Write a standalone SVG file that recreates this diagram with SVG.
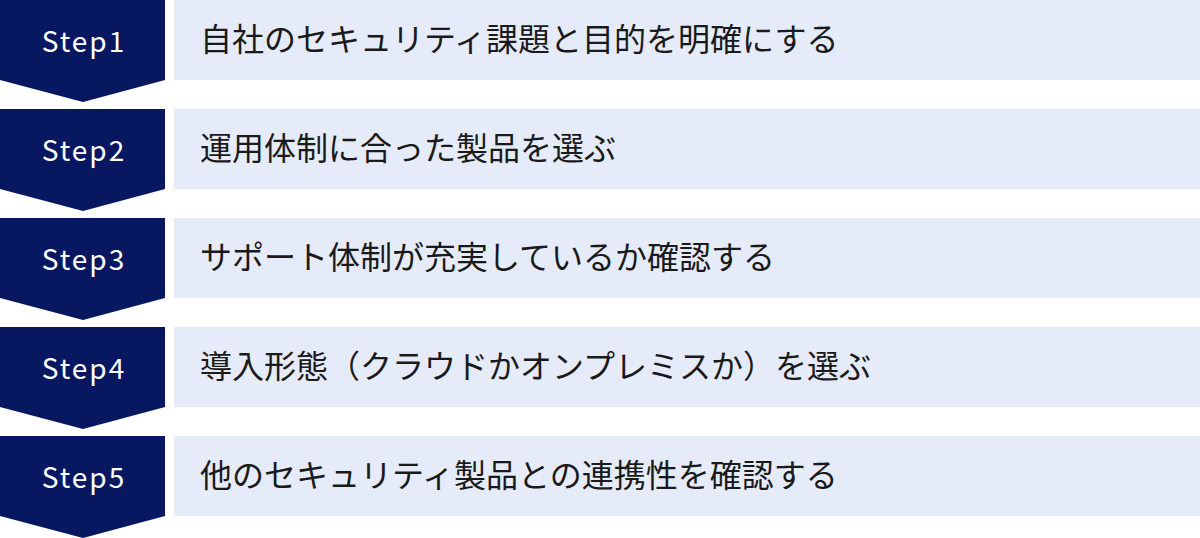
<svg xmlns="http://www.w3.org/2000/svg" width="1200" height="538" viewBox="0 0 1200 538">
<style>
.chev{fill:#071760}
.box{fill:#E5EBF9}
.step{font-family:"Noto Sans CJK JP","Noto Sans",sans-serif;font-size:28px;font-weight:400;fill:#ffffff;text-anchor:middle;letter-spacing:2px}
.lbl{font-family:"Noto Sans CJK JP","Noto Sans",sans-serif;font-size:32px;fill:#1a1a1a}
</style>
<defs>
<path id="chevron" d="M0,0 H165 V80 L83,102 L0,80 Z"/>
</defs>
<rect width="1200" height="538" fill="#ffffff"/>
<g id="connectors"></g>
<g id="step1" transform="translate(0,0)">
<use href="#chevron" class="chev"/>
<rect class="box" x="174" y="0" width="1026" height="80"/>
<text class="step" x="84" y="52">Step1</text>
<text class="lbl" x="200" y="51">自社のセキュリティ課題と目的を明確にする</text>
</g>
<g id="step2" transform="translate(0,109)">
<use href="#chevron" class="chev"/>
<rect class="box" x="174" y="0" width="1026" height="80"/>
<text class="step" x="84" y="52">Step2</text>
<text class="lbl" x="200" y="51">運用体制に合った製品を選ぶ</text>
</g>
<g id="step3" transform="translate(0,218)">
<use href="#chevron" class="chev"/>
<rect class="box" x="174" y="0" width="1026" height="80"/>
<text class="step" x="84" y="52">Step3</text>
<text class="lbl" x="200" y="51">サポート体制が充実しているか確認する</text>
</g>
<g id="step4" transform="translate(0,327)">
<use href="#chevron" class="chev"/>
<rect class="box" x="174" y="0" width="1026" height="80"/>
<text class="step" x="84" y="52">Step4</text>
<text class="lbl" x="200" y="51">導入形態（クラウドかオンプレミスか）を選ぶ</text>
</g>
<g id="step5" transform="translate(0,436)">
<use href="#chevron" class="chev"/>
<rect class="box" x="174" y="0" width="1026" height="80"/>
<text class="step" x="84" y="52">Step5</text>
<text class="lbl" x="200" y="51">他のセキュリティ製品との連携性を確認する</text>
</g>
</svg>
